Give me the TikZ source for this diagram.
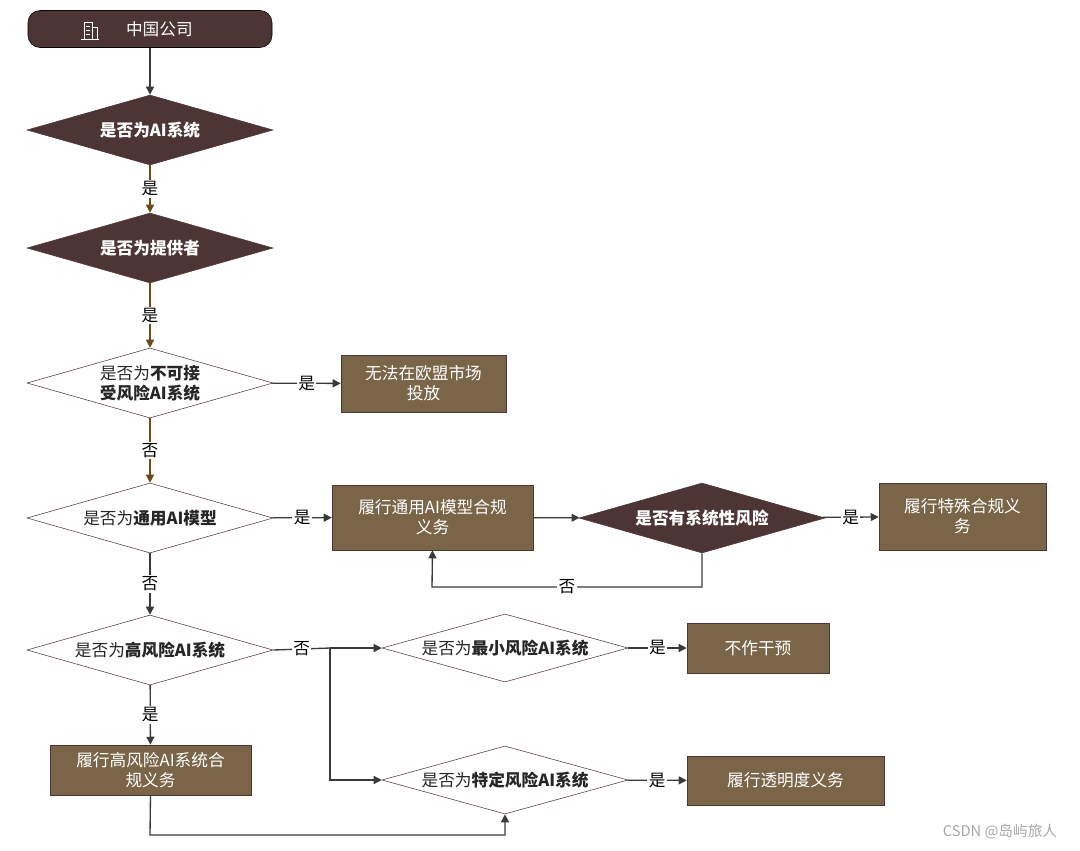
\documentclass[tikz,border=0pt]{standalone}
\usepackage{fontspec}
\setmainfont{Noto Sans CJK SC}
\usetikzlibrary{shapes.geometric,arrows.meta}
\definecolor{dk}{HTML}{4E3535}
\definecolor{bx}{HTML}{7A6548}
\definecolor{ln}{HTML}{3A3A3A}
\definecolor{br}{HTML}{6B4B1A}
\begin{document}
\begin{tikzpicture}[x=0.75pt,y=-0.75pt,
 dd/.style={diamond,aspect=3.5,minimum width=246*0.75pt,minimum height=70*0.75pt,inner sep=0pt,draw=dk,fill=dk,text=white,font=\fontsize{12.5}{15}\selectfont\bfseries},
 wd/.style={diamond,aspect=3.5,minimum width=246*0.75pt,minimum height=70*0.75pt,inner sep=0pt,draw=dk,fill=white,text=black!85,font=\fontsize{12.5}{15}\selectfont,align=center},
 bb/.style={rectangle,draw=dk,fill=bx,text=white,font=\fontsize{12.5}{15}\selectfont,align=center,inner sep=0pt},
 lb/.style={fill=white,font=\fontsize{12.5}{15}\selectfont,inner sep=1pt},
 ar/.style={draw=ln,line width=1pt,-{Triangle[length=6pt,width=6pt]}},
 ab/.style={draw=br,line width=1pt,-{Triangle[length=6pt,width=6pt]}},
 pl/.style={draw=ln,line width=1pt}]
\useasboundingbox (0,0) rectangle (1080,850);
\node[rectangle,rounded corners=9pt,fill=dk,draw=black,minimum width=244*0.75pt,minimum height=37*0.75pt,text=white,font=\fontsize{12.5}{15}\selectfont] (s) at (150,29) {\hspace{14pt}中国公司};
\draw[white,line width=0.6pt] (81,39)--(99,39) (84,39)--(84,22)--(92,22)--(92,39) (92,27)--(97,27)--(97,39) (86,26)--(90,26) (86,30)--(90,30) (86,34)--(90,34);
\node[dd] (d1) at (150,130) {是否为AI系统};
\node[dd] (d2) at (150,248) {是否为提供者};
\node[wd] (d3) at (150,383) {是否为\textbf{不可接}\\\textbf{受风险AI系统}};
\node[wd] (d4) at (150,518) {是否为\textbf{通用AI模型}};
\node[wd] (d6) at (150,650) {是否为\textbf{高风险AI系统}};
\node[dd] (d5) at (702,518) {是否有系统性风险};
\node[wd,minimum height=68*0.75pt] (d7) at (505,648) {是否为\textbf{最小风险AI系统}};
\node[wd,minimum height=68*0.75pt] (d8) at (505,780) {是否为\textbf{特定风险AI系统}};
\node[bb,minimum width=165*0.75pt,minimum height=57*0.75pt] (b1) at (423.5,383.5) {无法在欧盟市场\\投放};
\node[bb,minimum width=201*0.75pt,minimum height=65*0.75pt] (b2) at (432.5,517.5) {履行通用AI模型合规\\义务};
\node[bb,minimum width=167*0.75pt,minimum height=67*0.75pt] (b3) at (962.5,516.5) {履行特殊合规义\\务};
\node[bb,minimum width=142*0.75pt,minimum height=50*0.75pt] (b4) at (758,648) {不作干预};
\node[bb,minimum width=197*0.75pt,minimum height=49*0.75pt] (b5) at (785.5,780.5) {履行透明度义务};
\node[bb,minimum width=201*0.75pt,minimum height=50*0.75pt] (b6) at (150.5,770) {履行高风险AI系统合\\规义务};
\draw[ar] (s)--(d1);
\draw[ab] (d1)--node[lb]{是}(d2);
\draw[ab] (d2)--node[lb]{是}(d3);
\draw[ab] (d3)--node[lb]{否}(d4);
\draw[ar] (d4)--node[lb]{否}(d6);
\draw[ar] (d6)--node[lb]{是}(b6);
\draw[ar] (d3)--node[lb]{是}(b1);
\draw[ar] (d4)--node[lb]{是}(b2);
\draw[ar] (b2)--(d5);
\draw[ar] (d5)--node[lb]{是}(b3);
\coordinate (l1) at (702,587); \coordinate (l2) at (432,587);
\draw[ar] (d5.south)--(l1)--node[lb,pos=0.5]{否}(l2)--(b2.south);
\coordinate (j) at (330,648); \coordinate (j2) at (330,780);
\draw[pl] (d6.east)--node[lb]{否}(j);
\draw[ar] (j)--(d7.west);
\draw[ar] (j)--(j2)--(d8.west);
\draw[ar] (d7)--node[lb]{是}(b4);
\draw[ar] (d8)--node[lb]{是}(b5);
\coordinate (m1) at (150,835); \coordinate (m2) at (505,835);
\draw[ar] (b6.south)--(m1)--(m2)--(d8.south);
\node[text=gray!70,font=\fontsize{11}{13}\selectfont] (w) at (1000,832) {CSDN @岛屿旅人};
\end{tikzpicture}
\end{document}
